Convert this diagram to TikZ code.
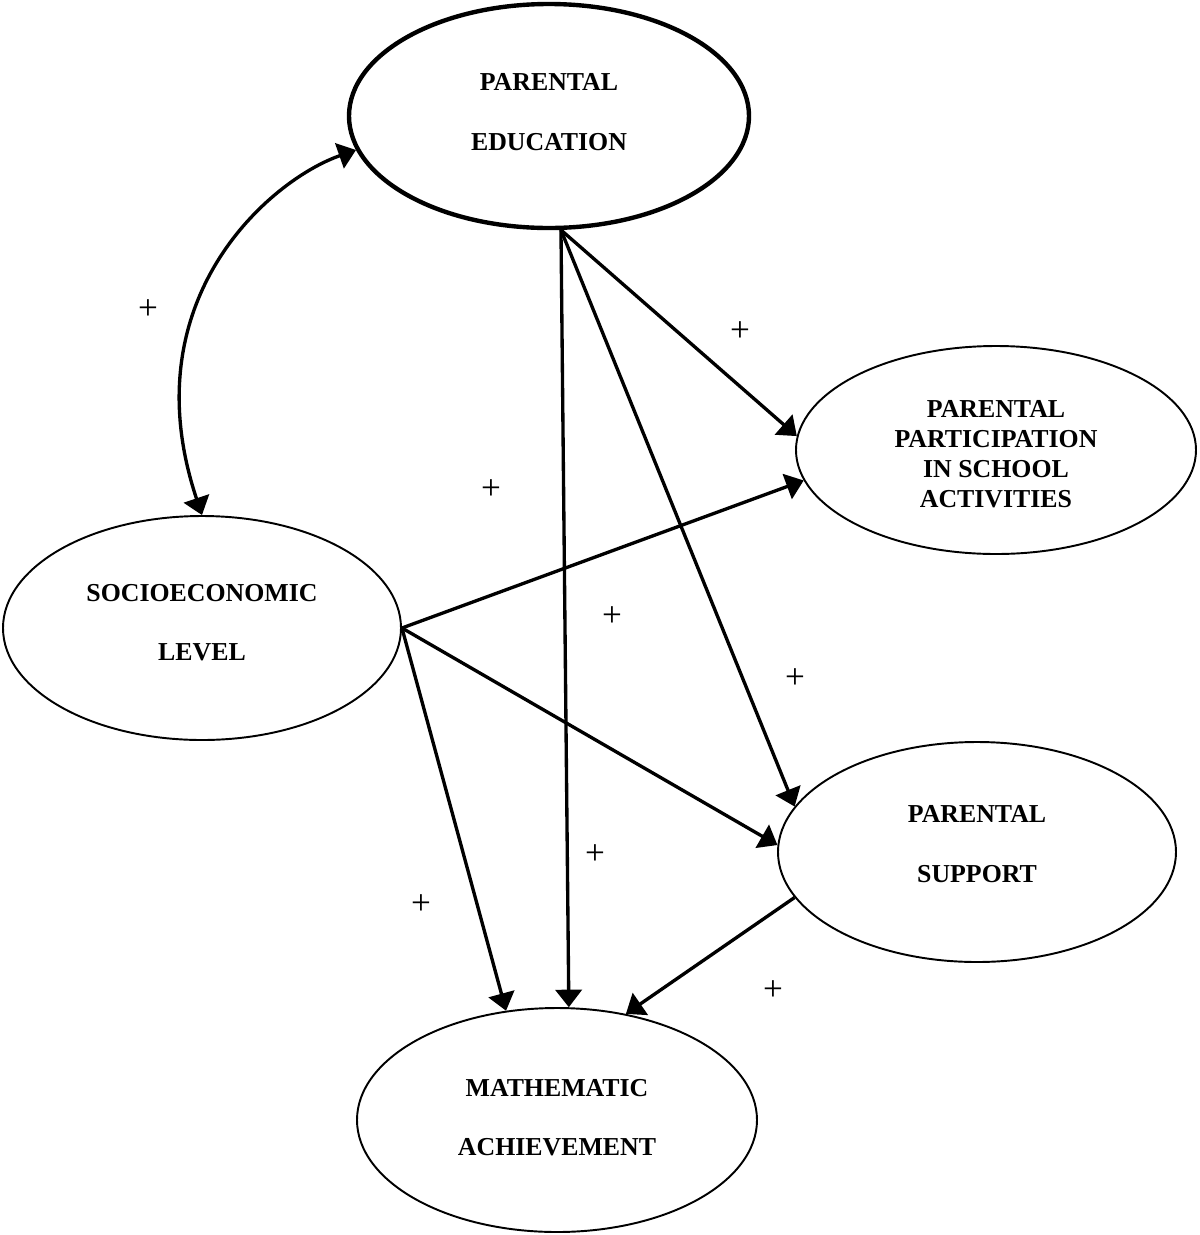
\documentclass[tikz,border=0pt]{standalone}
\usepackage{fontspec}
\setmainfont{Liberation Serif}
\usetikzlibrary{shapes.geometric,arrows.meta}
\begin{document}
\begin{tikzpicture}[
  var/.style={ellipse, draw, line width=1.1pt, inner sep=0pt, align=center,
    font=\fontsize{14.7}{17}\selectfont\bfseries},
  link/.style={line width=1.9pt, -{Triangle[length=10pt,width=15pt]}},
  duallink/.style={line width=1.9pt, {Triangle[length=10pt,width=15pt]}-{Triangle[length=10pt,width=15pt]}},
  sign/.style={inner sep=0pt, font=\fontsize{20}{20}\selectfont}
]
\fill[white] (0,0) rectangle (24,-24.7);
\useasboundingbox (0,0) rectangle (24,-24.7);

\node[var, line width=2.5pt, minimum width=8cm, minimum height=4.48cm] (pe) at (10.98,-2.32) {PARENTAL\\[17pt]EDUCATION\rule[-4.5pt]{0pt}{0pt}};
\node[var, minimum width=8cm, minimum height=4.16cm] (ppart) at (19.92,-9.0) {\rule{0pt}{14.2pt}PARENTAL\\PARTICIPATION\\IN SCHOOL\\ACTIVITIES};
\node[var, minimum width=7.96cm, minimum height=4.48cm] (ses) at (4.04,-12.56) {SOCIOECONOMIC\\[17pt]LEVEL\rule[-6.2pt]{0pt}{0pt}};
\node[var, minimum width=7.96cm, minimum height=4.4cm] (ps) at (19.54,-17.04) {PARENTAL\\[17pt]SUPPORT\rule[-9pt]{0pt}{0pt}};
\node[var, minimum width=8cm, minimum height=4.48cm] (math) at (11.14,-22.4) {MATHEMATIC\\[17pt]ACHIEVEMENT\rule[-2.8pt]{0pt}{0pt}};

\draw[duallink] (ses.90) .. controls (2.6,-6.0) and (5.4,-3.6) .. (pe.190.4);

\draw[link] (pe.-84.6) -- (ppart.176.3);
\draw[link] (pe.-84.6) -- (math.84.9);
\draw[link] (pe.-84.6) -- (ps.166.6);
\draw[link] (ses.0.5) -- (ppart.189);
\draw[link] (ses.0.5) -- (ps.178);
\draw[link] (ses.0.5) -- (math.115.1);
\draw[link] (ps.194.6) -- (math.57.6);

\node[sign] (s1) at (2.96,-6.20) {+};
\node[sign] (s2) at (14.8,-6.64) {+};
\node[sign] (s3) at (9.82,-9.8) {+};
\node[sign] (s4) at (12.24,-12.34) {+};
\node[sign] (s5) at (15.9,-13.58) {+};
\node[sign] (s6) at (11.9,-17.1) {+};
\node[sign] (s7) at (8.42,-18.1) {+};
\node[sign] (s8) at (15.46,-19.82) {+};
\end{tikzpicture}
\end{document}
